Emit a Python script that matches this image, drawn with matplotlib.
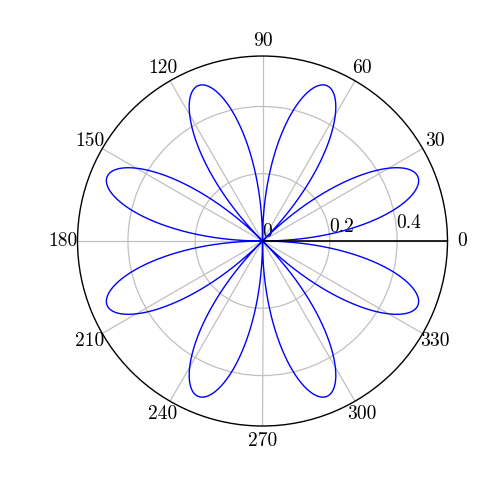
import matplotlib; matplotlib.use('Agg')
import numpy as np
from matplotlib import pyplot as plt

plt.rcParams.update({'font.family': 'cmr10', 'font.size': 14,
                     'axes.formatter.use_mathtext': True})

# rose curve r = a*sin(k*theta), negative radius drawn through the origin
amplitude = 0.5
petal_k = 4
r_max = 0.55
angle_ticks = [0, 30, 60, 90, 120, 150, 180, 210, 240, 270, 300, 330]
radial_ticks = [0, 0.2, 0.4]
radial_labels = ['0', '0.2', '0.4']

theta = np.linspace(0, 2*np.pi, 2000)
r = amplitude*np.sin(petal_k*theta)
theta_plot = np.where(r < 0, theta + np.pi, theta)
r_plot = np.abs(r)

fig = plt.figure(figsize=(5, 4.83), dpi=100)
ax = fig.add_axes([0.155, 0.118, 0.74, 0.766], projection='polar')
ax.plot(theta_plot, r_plot, color='blue', lw=1)
ax.set_rlim(0, r_max)
ax.set_thetagrids(angle_ticks, [str(a) for a in angle_ticks])
ax.set_rticks(radial_ticks)
ax.set_yticklabels(radial_labels)
ax.set_rlabel_position(4)
ax.tick_params(axis='x', pad=0)
ax.grid(color='#c0c0c0', lw=0.9)
ax.plot([0, 0], [0, r_max], color='black', lw=1.2)
ax.spines['polar'].set_linewidth(1)
for lab in ax.get_yticklabels():
    lab.set_verticalalignment('bottom')

plt.savefig('out.png', dpi=100)
